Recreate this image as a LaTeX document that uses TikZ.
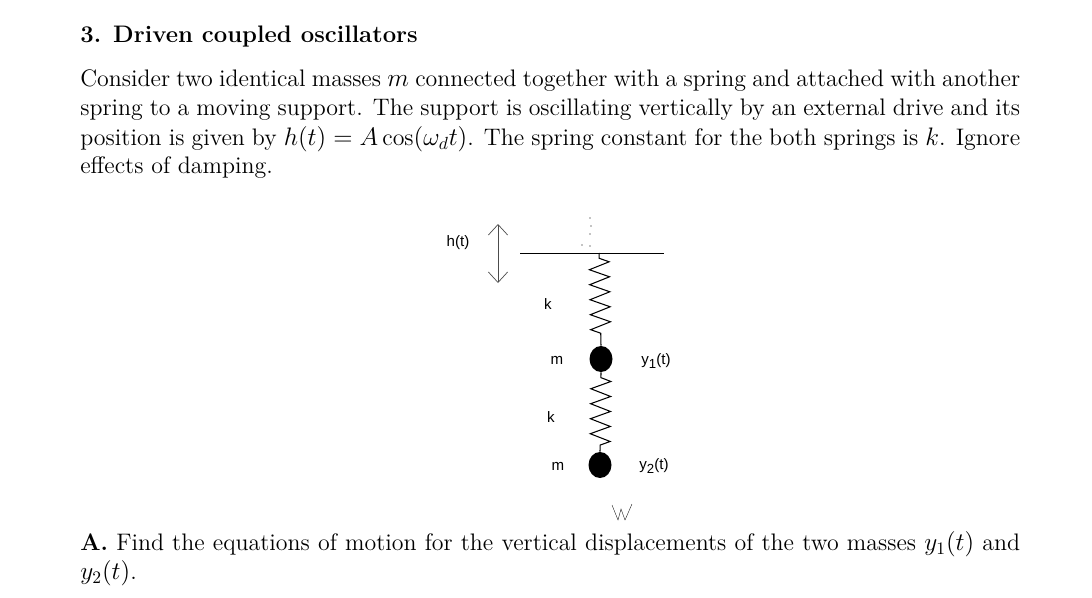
\documentclass[tikz,border=0pt]{standalone}
\usepackage{fontspec}
\newfontfamily\arialf{Liberation Sans}
\usetikzlibrary{decorations.pathmorphing,arrows.meta,shapes.geometric}
\begin{document}
\begin{tikzpicture}[x=0.02cm,y=-0.02cm,
  bodyline/.style={anchor=west,inner sep=0,font=\fontsize{13.6}{16}\selectfont},
  lbl/.style={font=\arialf\fontsize{8.6}{9}\selectfont,inner sep=0},
  spring/.style={decorate,decoration={zigzag,segment length=0.3cm,amplitude=0.2cm,pre length=3pt,post length=3pt},semithick},
  mass/.style={ellipse,fill=black,minimum width=0.46cm,minimum height=0.52cm,inner sep=0}]
\useasboundingbox (0,0) rectangle (1092,598);
\node[bodyline] (title) at (80,37) {\bfseries 3. Driven coupled oscillators};
\node[bodyline] (l1) at (80,81) {\makebox[18.8cm][s]{Consider two identical masses $m$ connected together with a spring and attached with another}};
\node[bodyline] (l2) at (80,110) {\makebox[18.8cm][s]{spring to a moving support. The support is oscillating vertically by an external drive and its}};
\node[bodyline] (l3) at (80,139) {\makebox[18.8cm][s]{position is given by $h(t)=A\cos(\omega_d t)$. The spring constant for the both springs is $k$. Ignore}};
\node[bodyline] (l4) at (80,168) {effects of damping.};
\node[bodyline] (l5) at (80,544) {\makebox[18.8cm][s]{\textbf{A.} Find the equations of motion for the vertical displacements of the two masses $y_1(t)$ and}};
\node[bodyline] (l6) at (80,573) {$y_2(t)$.};
% diagram
\coordinate (sl) at (520,253);
\coordinate (sr) at (664,253);
\draw[thin] (sl) -- (sr);
\coordinate (top) at (599,253);
\node[mass] (m1) at (601,359) {};
\node[mass] (m2) at (600,465) {};
\draw[spring] (top) -- (m1.north);
\draw[spring] (m1.south) -- (m2.north);
\coordinate (au) at (498,224);
\coordinate (ad) at (498,283);
\draw[thin,gray!60!black,{Straight Barb[length=6pt,width=11pt]}-{Straight Barb[length=6pt,width=11pt]}] (au) -- (ad);
\node[lbl] (h) at (458,243) {h(t)};
\node[lbl] (k1) at (548,304) {k};
\node[lbl] (k2) at (551,417) {k};
\node[lbl] (mm1) at (557,360) {m};
\node[lbl] (mm2) at (558,466) {m};
\node[lbl] (y1) at (656,361) {y\raisebox{-2.5pt}{\fontsize{7.5}{8}\selectfont 1}(t)};
\node[lbl] (y2) at (654,466) {y\raisebox{-2.5pt}{\fontsize{7.5}{8}\selectfont 2}(t)};
\fill (590,218) circle (0.6) (591,226) circle (0.6) (590,234) circle (0.6) (582,245) circle (0.6) (590,246) circle (0.6);
\coordinate (w1) at (612,505);
\coordinate (w2) at (618,520);
\coordinate (w3) at (621,509);
\coordinate (w4) at (625,520);
\coordinate (w5) at (632,504);
\draw[very thin] (w1) -- (w2) -- (w3) -- (w4) -- (w5);
\end{tikzpicture}
\end{document}
